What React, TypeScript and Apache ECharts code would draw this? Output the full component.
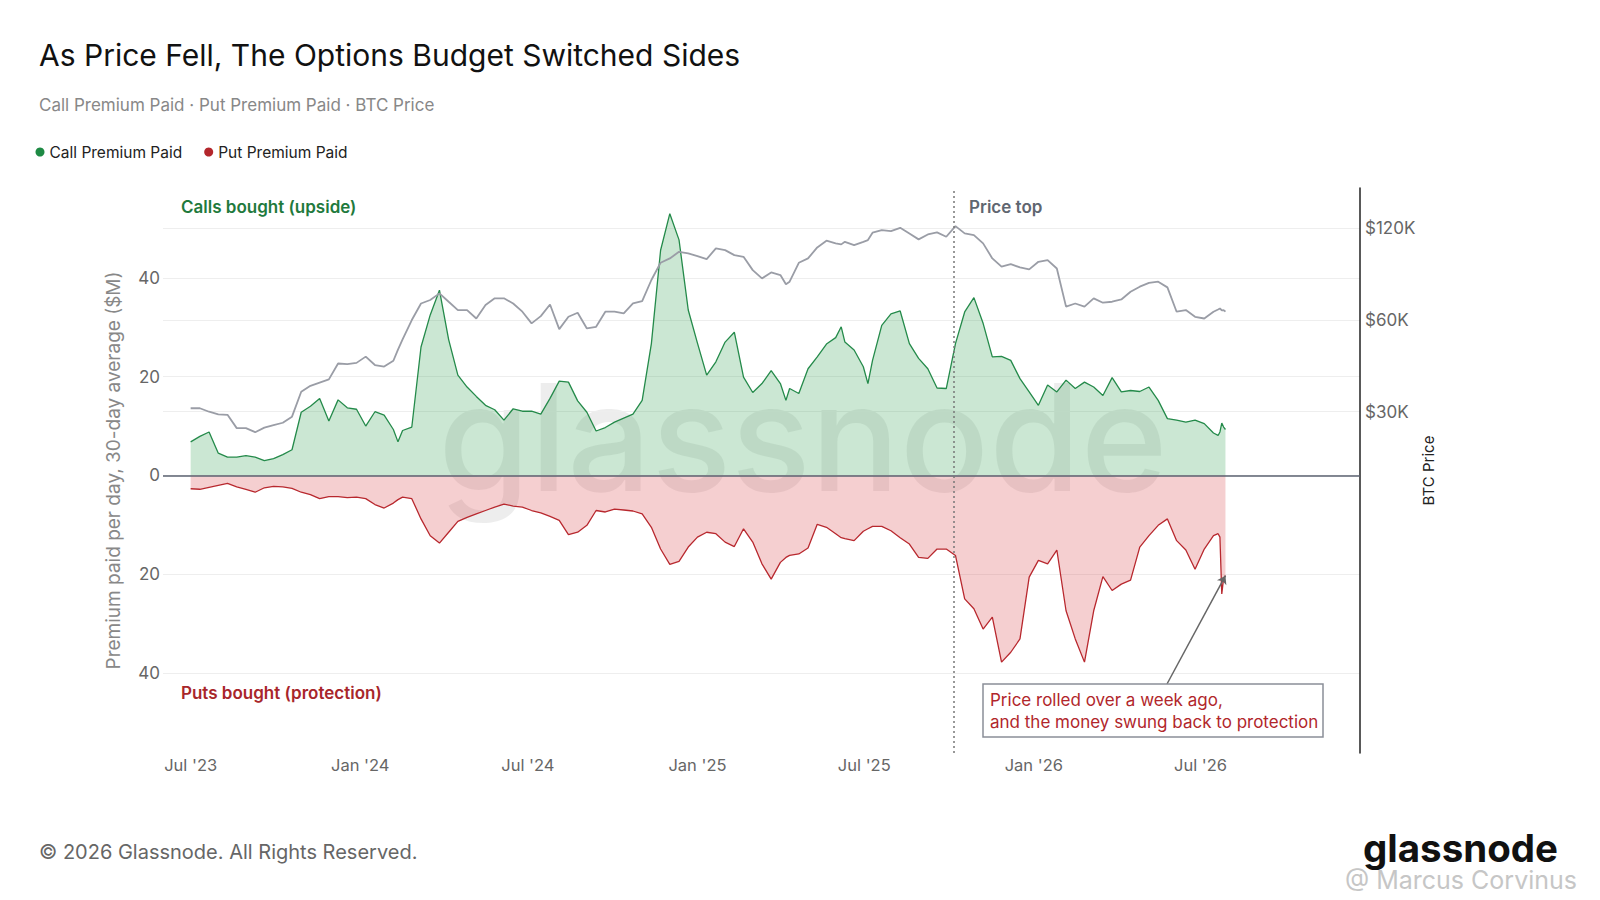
import React, { useEffect, useRef } from 'react';
import * as echarts from 'echarts';

const FONT = 'Inter, "Noto Sans", sans-serif';
const START_UTC = Date.UTC(2023, 6, 1);
const DAY_MS = 86400000;

// Sample days, counted from 1 Jul 2023
const DAY_OFFSETS: number[] = [
  0, 10, 20, 30, 40, 50, 60, 70, 80, 90,
  100, 110, 120, 130, 140, 150, 160, 170, 180, 190,
  200, 210, 220, 225, 230, 240, 250, 260, 270, 280, 290,
  300, 310, 320, 330, 340, 350, 360, 370, 380, 390,
  400, 410, 420, 430, 440, 450, 460, 470, 480, 490,
  500, 510, 520, 530, 540, 550, 560, 570, 580, 590,
  600, 610, 620, 630, 640, 646, 650, 660, 670, 680, 690,
  700, 706, 710, 720, 730, 735, 740, 750, 760, 770, 780, 790,
  800, 810, 820, 830, 840, 850, 860, 870, 880, 890,
  900, 910, 920, 930, 940, 950, 960, 970, 980, 990,
  1000, 1010, 1020, 1030, 1040, 1050, 1060, 1070, 1080, 1090,
  1100, 1110,
  1115, 1117, 1119, 1121, 1123,
];

// Call premium paid per day, 30d avg ($M)
const CALL_PREMIUM: number[] = [
  6.8, 7.9, 8.8, 4.5, 3.7, 3.7, 4.0, 3.7, 3.0, 3.4,
  4.2, 5.2, 12.8, 14.0, 15.6, 11.0, 15.3, 13.7, 13.4, 10.0,
  12.9, 12.2, 9.3, 6.8, 9.1, 9.8, 26.0, 32.5, 37.5, 27.5, 20.3,
  17.9, 16.0, 14.2, 13.3, 11.2, 13.5, 13.0, 13.0, 12.4, 15.6,
  19.1, 18.9, 15.1, 12.8, 9.0, 9.7, 10.8, 11.6, 12.4, 15.2,
  26.7, 45.6, 53.0, 47.7, 33.5, 26.8, 20.3, 23.0, 27.0, 29.0,
  19.9, 16.8, 18.6, 21.2, 18.6, 15.2, 17.6, 16.6, 21.6, 24.0, 26.6,
  27.9, 30.1, 27.0, 25.4, 22.0, 18.6, 23.3, 30.4, 32.7, 33.3, 26.7, 23.7,
  21.6, 17.7, 17.6, 26.7, 33.1, 36.0, 30.8, 24.0, 24.1, 23.3,
  19.6, 16.9, 14.2, 18.3, 16.9, 19.3, 17.6, 18.9, 17.9, 16.2,
  19.8, 16.9, 17.2, 17.0, 17.9, 15.2, 11.5, 11.2, 10.8, 11.2,
  10.5, 8.6,
  8.1, 8.8, 10.6, 9.8, 9.3,
];

// Put premium paid per day, 30d avg ($M), drawn below zero
const PUT_PREMIUM: number[] = [
  -2.7, -2.8, -2.4, -2.0, -1.6, -2.3, -2.8, -3.4, -2.5, -2.2,
  -2.3, -2.6, -3.4, -3.9, -4.7, -4.3, -4.3, -4.5, -4.4, -4.7,
  -5.9, -6.6, -5.6, -4.9, -4.4, -4.7, -8.8, -12.2, -13.7, -11.5, -9.3,
  -8.5, -7.8, -7.1, -6.4, -5.8, -6.2, -6.4, -7.1, -7.6, -8.3,
  -9.1, -12.0, -11.5, -10.1, -7.1, -7.4, -6.8, -7.0, -7.2, -7.8,
  -10.5, -14.9, -18.0, -17.4, -14.5, -12.5, -11.5, -11.8, -13.5, -14.4,
  -10.8, -13.5, -17.9, -21.0, -17.6, -16.6, -16.2, -15.9, -14.7, -9.9, -10.5,
  -11.8, -12.6, -12.8, -13.2, -11.3, -10.8, -10.3, -10.3, -11.2, -12.6, -13.9, -16.6,
  -16.8, -14.9, -14.9, -16.2, -25.0, -27.0, -31.1, -28.7, -37.8, -35.8,
  -33.1, -20.6, -17.2, -17.9, -15.1, -27.4, -33.1, -37.8, -27.4, -20.5,
  -23.3, -22.0, -21.2, -14.5, -12.2, -10.1, -8.8, -13.2, -15.1, -19.0,
  -14.9, -12.2,
  -11.8, -12.5, -24.0, -20.8, -20.3,
];

// BTC price ($K)
const BTC_PRICE_K: number[] = [
  30.8, 30.8, 30.0, 29.4, 29.3, 26.5, 26.5, 25.7, 26.6, 27.1,
  27.6, 28.9, 34.9, 36.5, 37.4, 38.3, 43.2, 43.0, 43.4, 45.5,
  42.7, 42.2, 44.1, 48.0, 51.8, 60.0, 68.0, 69.8, 73.4, 68.9, 64.7,
  64.7, 60.7, 67.2, 70.7, 70.7, 68.0, 63.9, 58.5, 61.8, 67.5,
  56.0, 61.5, 63.4, 56.3, 57.0, 63.9, 63.9, 63.1, 68.0, 69.2,
  81.2, 92.5, 95.6, 100.5, 99.3, 97.3, 95.1, 103.1, 101.8, 98.0,
  96.8, 87.5, 82.2, 86.0, 84.3, 78.6, 80.2, 92.5, 95.6, 103.9, 109.3,
  107.1, 106.3, 108.4, 105.7, 108.4, 109.8, 116.1, 118.4, 117.5, 120.5, 115.5, 110.4,
  114.6, 116.4, 112.6, 122.0, 115.5, 114.0, 107.1, 95.6, 89.8, 91.6,
  89.3, 88.0, 93.2, 94.4, 88.6, 66.4, 68.0, 66.4, 70.7, 68.4,
  68.9, 70.1, 74.3, 77.2, 79.5, 80.2, 76.8, 63.9, 64.7, 61.5,
  60.7, 63.9,
  65.0, 65.5, 64.5, 64.7, 63.9,
];

const X_TICK_DATES: number[] = [
  Date.UTC(2023, 6, 1), Date.UTC(2024, 0, 1), Date.UTC(2024, 6, 1), Date.UTC(2025, 0, 1),
  Date.UTC(2025, 6, 1), Date.UTC(2026, 0, 1), Date.UTC(2026, 6, 1),
];
const X_TICK_LABELS: string[] = ["Jul '23", "Jan '24", "Jul '24", "Jan '25", "Jul '25", "Jan '26", "Jul '26"];
const LEFT_TICKS: number[] = [-40, -20, 0, 20, 40];
const PRICE_TICKS_K: number[] = [30, 60, 120];
const PRICE_TOP_DATE = Date.UTC(2025, 9, 6);

const GREEN = '#1e8a44';
const RED = '#b3262c';
const GRAY = '#9a9da6';

function buildOption() {
  const ts = DAY_OFFSETS.map((d) => START_UTC + d * DAY_MS);
  const callData = ts.map((t, i) => [t, CALL_PREMIUM[i]]);
  const putData = ts.map((t, i) => [t, PUT_PREMIUM[i]]);
  const priceData = ts.map((t, i) => [t, BTC_PRICE_K[i]]);
  const lastIdx = ts.length - 1;

  const txt = (x: number, y: number, text: string, size: number, fill: string, weight: any = 'normal', align: any = 'left', z = 50) => ({
    type: 'text', x, y, z, silent: true,
    style: { text, fill, fontSize: size, fontWeight: weight, fontFamily: FONT, align, verticalAlign: 'middle' },
  });

  return {
    animation: false,
    backgroundColor: '#ffffff',
    textStyle: { fontFamily: FONT },
    grid: { left: 163, right: 240, top: 188, bottom: 147 },
    legend: {
      data: [
        { name: 'Call Premium Paid', itemStyle: { color: GREEN } },
        { name: 'Put Premium Paid', itemStyle: { color: RED } },
      ],
      icon: 'circle', itemWidth: 9, itemHeight: 9, itemGap: 22,
      left: 30.5, top: 139, selectedMode: false,
      textStyle: { color: '#222', fontSize: 15.5, fontFamily: FONT },
    },
    xAxis: {
      type: 'value',
      min: Date.UTC(2023, 5, 1),
      max: Date.UTC(2026, 11, 21),
      axisLine: { show: false },
      axisTick: { show: false, customValues: X_TICK_DATES },
      splitLine: { show: false },
      axisLabel: {
        customValues: X_TICK_DATES,
        color: '#666', fontSize: 16.5, margin: 3, fontFamily: FONT,
        formatter: (v: number) => {
          let best = 0;
          X_TICK_DATES.forEach((t, i) => { if (Math.abs(t - v) < Math.abs(X_TICK_DATES[best] - v)) best = i; });
          return X_TICK_LABELS[best];
        },
      },
    },
    yAxis: [
      {
        type: 'value', min: -56.2, max: 58.2, position: 'left',
        name: 'Premium paid per day, 30-day average ($M)',
        nameLocation: 'middle', nameGap: 40, nameMoveOverlap: false,
        nameTextStyle: { color: '#888', fontSize: 19, fontFamily: FONT },
        axisLine: { show: false },
        axisTick: { show: false, customValues: LEFT_TICKS },
        splitLine: { show: true, lineStyle: { color: '#eeeeee', width: 1 } },
        axisLabel: {
          customValues: LEFT_TICKS, color: '#666', fontSize: 17, margin: 3, fontFamily: FONT,
          formatter: (v: number) => String(Math.abs(v)),
        },
      },
      {
        type: 'log', logBase: 2, min: 2.273, max: 162.8, position: 'right',
        name: 'BTC Price', nameLocation: 'middle', nameGap: 61, nameMoveOverlap: false,
        nameTextStyle: { color: '#222', fontSize: 15, fontFamily: FONT },
        axisLine: { show: true, lineStyle: { color: '#222', width: 1.5 } },
        axisTick: { show: false, customValues: PRICE_TICKS_K },
        splitLine: { show: true, lineStyle: { color: '#eeeeee', width: 1 } },
        axisLabel: {
          customValues: PRICE_TICKS_K, color: '#666', fontSize: 17, margin: 5, fontFamily: FONT,
          formatter: (v: number) => '$' + Math.round(v) + 'K',
        },
      },
    ],
    series: [
      {
        name: 'Call Premium Paid', type: 'line', data: callData, symbol: 'none', z: 3,
        lineStyle: { color: '#248a4a', width: 1.3 },
        itemStyle: { color: GREEN },
        areaStyle: { color: 'rgba(56,163,86,0.37)' },
        markLine: {
          silent: true, symbol: ['none', 'none'], label: { show: false },
          lineStyle: { color: '#5b6270', width: 1.5, type: 'solid' },
          data: [{ yAxis: 0 }],
        },
      },
      {
        name: 'Put Premium Paid', type: 'line', data: putData, symbol: 'none', z: 3,
        lineStyle: { color: '#b8282e', width: 1.3 },
        itemStyle: { color: RED },
        areaStyle: { color: 'rgba(210,40,45,0.32)' },
        markLine: {
          silent: true, symbol: ['none', 'none'], label: { show: false }, z: 10,
          data: [
            { xAxis: PRICE_TOP_DATE, lineStyle: { color: '#777', width: 1.5, type: [2, 3] } },
            [
              { x: 1167, y: 684, symbol: 'none', lineStyle: { color: '#666', width: 1.5, type: 'solid' } },
              { coord: [ts[lastIdx], PUT_PREMIUM[lastIdx]], symbol: 'arrow', symbolSize: 8, lineStyle: { color: '#666', width: 1.5, type: 'solid' } },
            ],
          ],
        },
      },
      {
        name: 'BTC Price', type: 'line', yAxisIndex: 1, data: priceData, symbol: 'none', z: 4,
        lineStyle: { color: GRAY, width: 1.8 },
        itemStyle: { color: GRAY },
      },
    ],
    graphic: [
      { type: 'text', x: 803, y: 437, z: 0, silent: true,
        style: { text: 'glassnode', fill: 'rgba(0,0,0,0.07)', fontSize: 148, fontWeight: 500, fontFamily: FONT, align: 'center', verticalAlign: 'middle' } },
      txt(39, 55, 'As Price Fell, The Options Budget Switched Sides', 30, '#111', 400),
      txt(39, 105, 'Call Premium Paid · Put Premium Paid · BTC Price', 17, '#888'),
      txt(181, 207, 'Calls bought (upside)', 17, '#1f7a3d', 600),
      txt(181, 693, 'Puts bought (protection)', 17, '#a8262b', 600),
      txt(969, 207, 'Price top', 17, '#5f6670', 600),
      { type: 'rect', z: 60, silent: true, shape: { x: 983, y: 684, width: 340, height: 53 },
        style: { fill: '#ffffff', stroke: '#8a8f98', lineWidth: 1.5 } },
      txt(990, 700, 'Price rolled over a week ago,', 17, '#b1262b', 'normal', 'left', 61),
      txt(990, 722, 'and the money swung back to protection', 17, '#b1262b', 'normal', 'left', 61),
      txt(39, 852, '© 2026 Glassnode. All Rights Reserved.', 20, '#666'),
      txt(1558, 848, 'glassnode', 38.5, '#111', 700, 'right'),
      txt(1345, 880, '@ Marcus Corvinus', 25, '#c6c6c6'),
    ],
  };
}

export default function App() {
  const ref = useRef<HTMLDivElement>(null);
  useEffect(() => {
    if (!ref.current) return;
    const chart = echarts.init(ref.current, undefined, { renderer: 'svg' });
    chart.setOption(buildOption() as any);
    return () => chart.dispose();
  }, []);
  return (
    <div
      ref={ref}
      style={{ position: 'fixed', left: 0, top: 0, width: 1600, height: 900, background: '#fff' }}
    />
  );
}
